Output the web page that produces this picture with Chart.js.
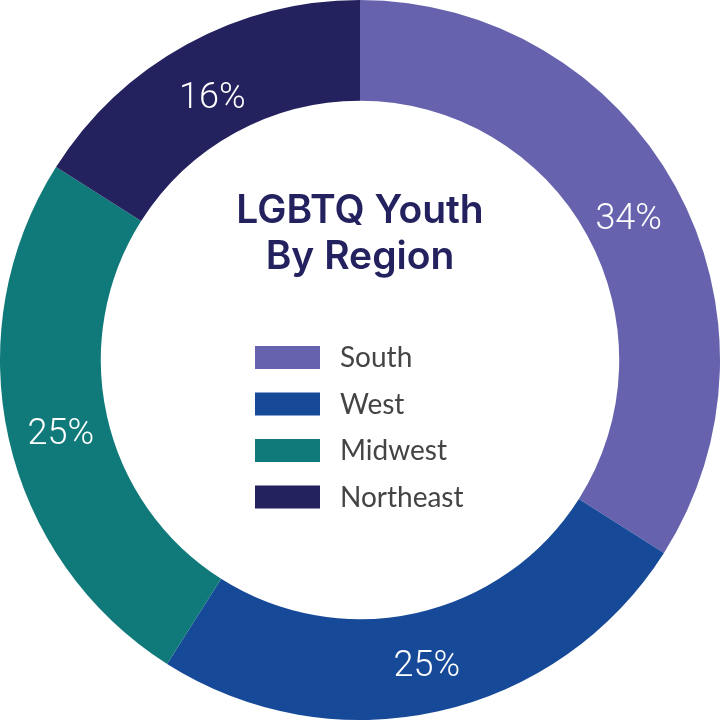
<!DOCTYPE html>
<html lang="en">
<head>
    <meta charset="UTF-8">
    <title>LGBTQ Youth By Region</title>
    <script src="https://cdn.jsdelivr.net/npm/chart.js"></script>
    <style>
        html, body { margin: 0; padding: 0; background: #ffffff; }
        #wrap { width: 720px; height: 720px; }
    </style>
</head>
<body>
    <div id="wrap"><canvas id="regionChart"></canvas></div>

    <script>
        // data
        const regions = ["South", "West", "Midwest", "Northeast"];
        const shares = [34, 25, 25, 16];
        const colors = ["#6662ad", "#164a99", "#10797a", "#24215f"];
        const titleLines = ["LGBTQ Youth", "By Region"];

        // white % labels on each slice + title and legend in the hole
        const centerStuff = {
            id: "centerStuff",
            afterDatasetsDraw(chart) {
                const ctx = chart.ctx;
                const meta = chart.getDatasetMeta(0);
                ctx.save();

                // percent labels
                ctx.fillStyle = "#ffffff";
                ctx.font = "300 36px Roboto";
                ctx.textAlign = "center";
                ctx.textBaseline = "middle";
                meta.data.forEach((arc, i) => {
                    const mid = (arc.startAngle + arc.endAngle) / 2;
                    const r = (arc.innerRadius + arc.outerRadius) / 2 - 3;
                    ctx.fillText(shares[i] + "%", arc.x + Math.cos(mid) * r, arc.y + Math.sin(mid) * r + 8);
                });

                const cx = meta.data[0].x;
                const cy = meta.data[0].y;

                // title
                ctx.fillStyle = "#24215f";
                ctx.font = "600 39px Inter";
                ctx.textBaseline = "alphabetic";
                ctx.fillText(titleLines[0], cx, cy - 137);
                ctx.fillText(titleLines[1], cx, cy - 91);

                // legend
                ctx.textAlign = "left";
                ctx.textBaseline = "middle";
                ctx.font = "28px Lato";
                regions.forEach((name, i) => {
                    const y = cy - 3 + i * 46.5;
                    ctx.fillStyle = colors[i];
                    ctx.fillRect(cx - 105, y - 11, 65, 23);
                    ctx.fillStyle = "#444444";
                    ctx.fillText(name, cx - 20, y + 1);
                });

                ctx.restore();
            }
        };

        function draw() {
            const ctx = document.getElementById("regionChart").getContext("2d");
            new Chart(ctx, {
                type: "doughnut",
                data: {
                    labels: regions,
                    datasets: [{
                        data: shares,
                        backgroundColor: colors,
                        borderWidth: 0
                    }]
                },
                options: {
                    responsive: true,
                    maintainAspectRatio: false,
                    animation: false,
                    cutout: "72%",
                    layout: { padding: 0 },
                    plugins: {
                        legend: { display: false },
                        tooltip: { enabled: false }
                    }
                },
                plugins: [centerStuff]
            });
        }

        // make sure the canvas fonts are ready first
        Promise.all([
            document.fonts.load("300 36px Roboto"),
            document.fonts.load("600 39px Inter"),
            document.fonts.load("28px Lato")
        ]).then(draw, draw);
    </script>
</body>
</html>
